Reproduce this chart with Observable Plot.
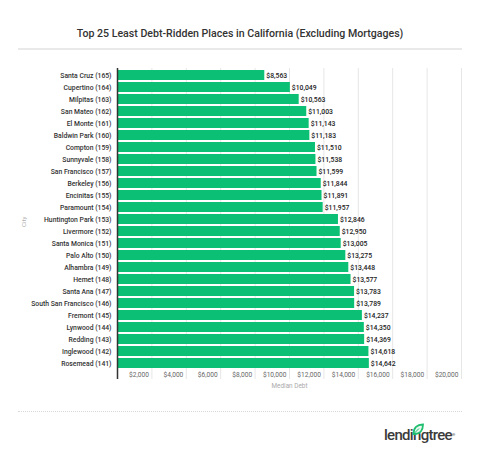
<!DOCTYPE html>
<html>
<head>
<meta charset="utf-8">
<script src="https://cdn.jsdelivr.net/npm/d3@7"></script>
<script src="https://cdn.jsdelivr.net/npm/@observablehq/plot@0.6"></script>
<style>
  html, body { margin: 0; padding: 0; background: #fff; }
  body { width: 480px; height: 461px; overflow: hidden; font-family: Roboto, "Noto Sans", sans-serif; }
  #wrap { position: relative; width: 480px; height: 461px; }
  #title { position: absolute; left: 0; width: 480px; top: 26px; text-align: center;
           font-size: 10.6px; font-weight: 500; color: #333; line-height: 16px; }
  #rule { position: absolute; left: 18px; width: 444px; top: 48px; height: 2px; background: #e9e9e9; }
  #chart { position: absolute; left: 0; top: 0; }
  #dots { position: absolute; left: 18px; width: 444px; top: 411px; border-top: 1px dotted #d8d8d8; }
  #logo { position: absolute; left: 384px; top: 425px; font-size: 15px; font-weight: 500;
          color: #3b3b3b; letter-spacing: -0.7px; line-height: 20px; }
  #leaf { position: absolute; left: 411px; top: 422px; }
</style>
</head>
<body>
<div id="wrap">
  <div id="title">Top 25 Least Debt-Ridden Places in California (Excluding Mortgages)</div>
  <div id="rule"></div>
  <div id="chart"></div>
  <div id="dots"></div>
  <div id="logo">lendingtree<span style="font-size:4px;vertical-align:top;">®</span></div>
  <svg id="leaf" width="14" height="14" viewBox="0 0 14 14"><path d="M2.5 12 C2.5 5.5 6 2.5 12 2.5 C12 8.5 9 12 3.5 12 Z" fill="#e8f8ef" stroke="#1fbf6f" stroke-width="1.8"/><path d="M3 11.5 L8 6.5" stroke="#1fbf6f" stroke-width="1"/></svg>
</div>
<script>
const cities = ["Santa Cruz","Cupertino","Milpitas","San Mateo","El Monte","Baldwin Park","Compton","Sunnyvale","San Francisco","Berkeley","Encinitas","Paramount","Huntington Park","Livermore","Santa Monica","Palo Alto","Alhambra","Hemet","Santa Ana","South San Francisco","Fremont","Lynwood","Redding","Inglewood","Rosemead"];
const ranks = [165,164,163,162,161,160,159,158,157,156,155,154,153,152,151,150,149,148,147,146,145,144,143,142,141];
const debts = [8563,10049,10563,11003,11143,11183,11510,11538,11599,11844,11891,11957,12846,12950,13005,13275,13448,13577,13783,13789,14237,14350,14369,14618,14642];
const xTicks = [2000,4000,6000,8000,10000,12000,14000,16000,18000,20000];

const data = cities.map((c, i) => ({label: `${c} (${ranks[i]})`, debt: debts[i]}));
const money = d => "$" + d3.format(",")(d);

const chart = Plot.plot({
  width: 480,
  height: 395,
  marginTop: 68,
  marginBottom: 16,
  marginLeft: 117,
  marginRight: 19,
  style: {fontFamily: "Roboto, sans-serif", background: "transparent"},
  x: {domain: [0, 20000], axis: null},
  y: {domain: data.map(d => d.label), range: [68, 370], padding: 0.15, axis: null},
  marks: [
    Plot.ruleX(xTicks, {stroke: "#e6e6e6", strokeWidth: 1}),
    Plot.barX(data, {x: "debt", y: "label", fill: "#0bbf74"}),
    Plot.text(data, {x: "debt", y: "label", text: d => money(d.debt), textAnchor: "start", dx: 1.5,
      fontSize: 6.8, fontWeight: 500, fill: "#222"}),
    Plot.axisY({tickSize: 0, tickPadding: 6, fontSize: 6.8, fontWeight: 500, fill: "#333", label: null}),
    Plot.axisX(xTicks, {tickSize: 0, tickPadding: 0, textAnchor: "end", dx: -3, dy: -7,
      tickFormat: money, fontSize: 6.6, fill: "#666", label: null}),
    Plot.text(["Median Debt"], {text: d => d, frameAnchor: "bottom", dy: 8, fontSize: 6.4, fill: "#aaa"}),
    Plot.text(["City"], {text: d => d, frameAnchor: "left", dx: -93, dy: 3, rotate: -90, fontSize: 6.2, fill: "#b0b0b0"}),
    Plot.ruleX([0], {stroke: "#333", strokeWidth: 1.5})
  ]
});
document.getElementById("chart").appendChild(chart);
</script>
</body>
</html>
